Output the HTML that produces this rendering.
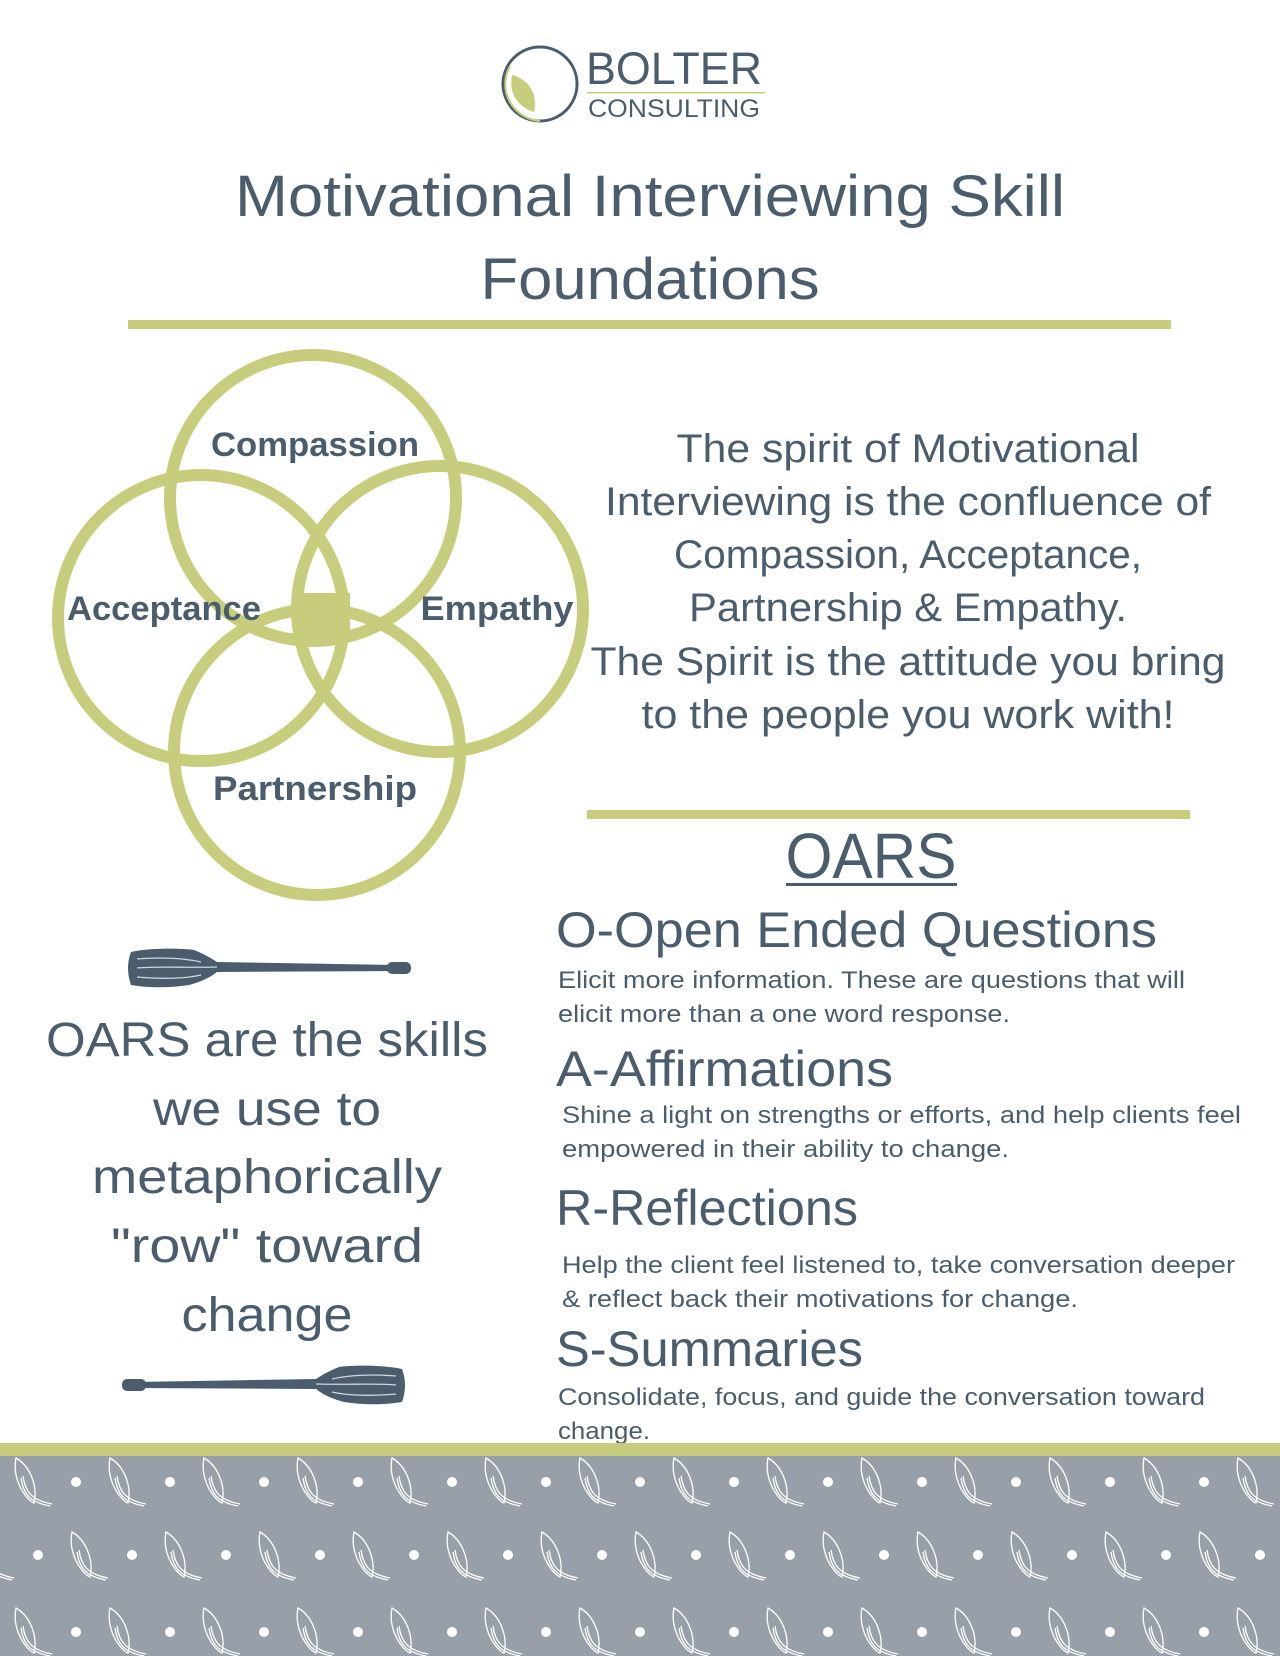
<!DOCTYPE html>
<html><head><meta charset="utf-8"><style>
html,body{margin:0;padding:0;background:#fff}
svg{display:block}
text{font-family:"Liberation Sans",sans-serif}
</style></head><body>
<svg width="1280" height="1656" viewBox="0 0 1280 1656" xmlns="http://www.w3.org/2000/svg">
<defs>
<g id="leaf" fill="none" stroke="#fff" stroke-width="1.3">
<path d="M0,0 C14,8 22,28 18,45 C8,40 -4,20 0,0 Z"/>
<path d="M7,18 C9,32 14,42 36,46"/>
<path d="M5,20 C7,34 12,44 34,48"/>
</g>
<pattern id="pat" x="0" y="1456" width="94" height="150" patternUnits="userSpaceOnUse">
<rect width="94" height="150" fill="#97a0a8"/>
<use href="#leaf" x="16" y="2"/>
<circle cx="76" cy="26" r="5" fill="#fff"/>
<use href="#leaf" x="72" y="76"/>
<use href="#leaf" x="-22" y="76"/>
<circle cx="38" cy="99" r="5" fill="#fff"/>
</pattern>
<g id="oar" fill="#4b5d6c">
<path d="M2,6 C20,2 50,2 65,4 C75,8 82,12 88,16 L270,19 L270,25 L88,26 C82,31 72,36 60,39 C40,42 20,42 2,39 C-2,28 -2,16 2,6 Z"/>
<rect x="258" y="16" width="24" height="12" rx="5"/>
<path d="M8,13 C30,11 55,12 72,16 M8,22 C30,20 55,22 88,21 M8,31 C30,33 55,33 72,29" stroke="#cfd6dc" stroke-width="1.3" fill="none"/>
</g>
</defs>

<!-- Logo -->
<circle cx="540" cy="84" r="37" fill="none" stroke="#4b5d6c" stroke-width="3"/>
<path d="M510,66 A37,37 0 0 0 540,121" fill="none" stroke="#c7cd7c" stroke-width="2"/>
<path d="M512,75 C530,80 538,95 534,112 C520,108 508,95 512,75 Z" fill="#c7cd7c"/>
<text x="586" y="84" font-size="45" fill="#4b5d6c" font-family="Liberation Serif,serif" textLength="176" lengthAdjust="spacingAndGlyphs">BOLTER</text>
<rect x="587" y="92" width="178" height="1.5" fill="#c7cd7c"/>
<text x="588" y="117" font-size="25" fill="#4b5d6c" textLength="172" lengthAdjust="spacingAndGlyphs">CONSULTING</text>

<!-- Title -->
<text x="650" y="216" font-size="58" fill="#4b5d6c" text-anchor="middle" textLength="830" lengthAdjust="spacingAndGlyphs">Motivational Interviewing Skill</text>
<text x="650" y="299" font-size="58" fill="#4b5d6c" text-anchor="middle" textLength="339" lengthAdjust="spacingAndGlyphs">Foundations</text>
<rect x="128" y="320" width="1043" height="9" fill="#c7cd7c"/>

<!-- Venn -->
<g fill="none" stroke="#c7cd7c" stroke-width="12">
<circle cx="313" cy="498" r="143"/>
<circle cx="201" cy="618" r="143"/>
<circle cx="440" cy="609" r="143"/>
<circle cx="317" cy="752" r="143"/>
</g>
<rect x="297" y="593" width="53" height="44" fill="#c7cd7c"/>
<g font-weight="bold" font-size="34" fill="#4b5d6c" text-anchor="middle" lengthAdjust="spacingAndGlyphs">
<text x="315" y="456" textLength="208" lengthAdjust="spacingAndGlyphs">Compassion</text>
<text x="164" y="620" textLength="194" lengthAdjust="spacingAndGlyphs">Acceptance</text>
<text x="497" y="620" textLength="153" lengthAdjust="spacingAndGlyphs">Empathy</text>
<text x="315" y="800" textLength="204" lengthAdjust="spacingAndGlyphs">Partnership</text>
</g>

<!-- Spirit paragraph -->
<g font-size="40" fill="#4b5d6c" text-anchor="middle">
<text x="908" y="462" textLength="463" lengthAdjust="spacingAndGlyphs">The spirit of Motivational</text>
<text x="908" y="515" textLength="606" lengthAdjust="spacingAndGlyphs">Interviewing is the confluence of</text>
<text x="908" y="568" textLength="468" lengthAdjust="spacingAndGlyphs">Compassion, Acceptance,</text>
<text x="908" y="621" textLength="438" lengthAdjust="spacingAndGlyphs">Partnership &amp; Empathy.</text>
<text x="908" y="675" textLength="635" lengthAdjust="spacingAndGlyphs">The Spirit is the attitude you bring</text>
<text x="908" y="728" textLength="533" lengthAdjust="spacingAndGlyphs">to the people you work with!</text>
</g>
<rect x="587" y="810" width="603" height="9" fill="#c7cd7c"/>

<!-- OARS -->
<text x="871" y="878" font-size="64" fill="#4b5d6c" text-anchor="middle" textLength="171" lengthAdjust="spacingAndGlyphs">OARS</text>
<rect x="786" y="883" width="171" height="3" fill="#4b5d6c"/>
<g fill="#4b5d6c">
<text x="556" y="947" font-size="50" textLength="601" lengthAdjust="spacingAndGlyphs">O-Open Ended Questions</text>
<text x="558" y="988" font-size="24" textLength="627" lengthAdjust="spacingAndGlyphs">Elicit more information. These are questions that will</text>
<text x="558" y="1022" font-size="24" textLength="452" lengthAdjust="spacingAndGlyphs">elicit more than a one word response.</text>
<text x="556" y="1086" font-size="50" textLength="337" lengthAdjust="spacingAndGlyphs">A-Affirmations</text>
<text x="562" y="1123" font-size="24" textLength="679" lengthAdjust="spacingAndGlyphs">Shine a light on strengths or efforts, and help clients feel</text>
<text x="562" y="1157" font-size="24" textLength="447" lengthAdjust="spacingAndGlyphs">empowered in their ability to change.</text>
<text x="556" y="1225" font-size="50" textLength="302" lengthAdjust="spacingAndGlyphs">R-Reflections</text>
<text x="562" y="1273" font-size="24" textLength="673" lengthAdjust="spacingAndGlyphs">Help the client feel listened to, take conversation deeper</text>
<text x="562" y="1307" font-size="24" textLength="516" lengthAdjust="spacingAndGlyphs">&amp; reflect back their motivations for change.</text>
<text x="556" y="1366" font-size="50" textLength="307" lengthAdjust="spacingAndGlyphs">S-Summaries</text>
<text x="558" y="1405" font-size="24" textLength="647" lengthAdjust="spacingAndGlyphs">Consolidate, focus, and guide the conversation toward</text>
<text x="558" y="1439" font-size="24" textLength="92" lengthAdjust="spacingAndGlyphs">change.</text>
</g>

<!-- Left text and oars -->
<use href="#oar" x="129" y="946"/>
<use href="#oar" transform="translate(404,1363) scale(-1,1)"/>
<g font-size="48" fill="#4b5d6c" text-anchor="middle">
<text x="267" y="1056" textLength="442" lengthAdjust="spacingAndGlyphs">OARS are the skills</text>
<text x="267" y="1125" textLength="228" lengthAdjust="spacingAndGlyphs">we use to</text>
<text x="267" y="1193" textLength="350" lengthAdjust="spacingAndGlyphs">metaphorically</text>
<text x="267" y="1262" textLength="312" lengthAdjust="spacingAndGlyphs">"row" toward</text>
<text x="267" y="1331" textLength="171" lengthAdjust="spacingAndGlyphs">change</text>
</g>

<!-- Footer -->
<rect x="0" y="1443" width="1280" height="13" fill="#c7cd7c"/>
<rect x="0" y="1456" width="1280" height="200" fill="url(#pat)"/>
</svg>
</body></html>
